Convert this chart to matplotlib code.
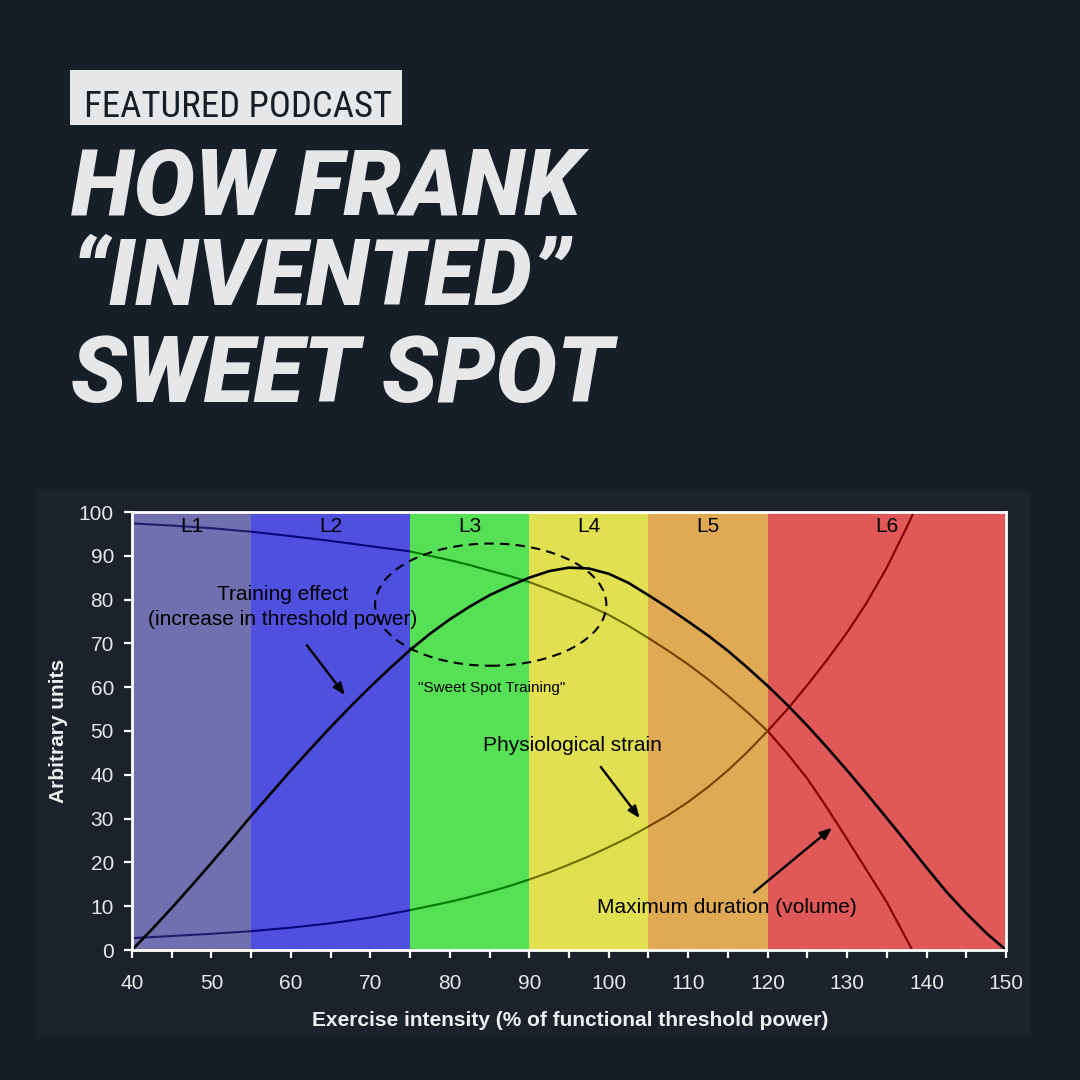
import matplotlib
matplotlib.use("Agg")
import matplotlib.pyplot as plt
from matplotlib.patches import Ellipse, Rectangle

# ---------------- data ----------------
zone_edges = [40, 55, 75, 90, 105, 120, 150]
zone_labels = ["L1", "L2", "L3", "L4", "L5", "L6"]
zone_colors = ["#7070b0", "#5050e0", "#55e055", "#e0e050", "#e0aa55", "#e05858"]
zone_line_colors = ["#1c1c6a", "#06067e", "#007a00", "#6e6e00", "#784000", "#7e0000"]

x_train = [40, 42.5, 45, 47.5, 50, 52.5, 55, 57.5, 60, 62.5, 65, 67.5, 70, 72.5, 75,
           77.5, 80, 82.5, 85, 87.5, 90, 92.5, 95, 97.5, 100, 102.5, 105, 107.5, 110,
           112.5, 115, 117.5, 120, 122.5, 125, 127.5, 130, 132.5, 135, 137.5, 140,
           142.5, 145, 147.5, 150]
training_effect = [0, 4.7, 9.6, 14.7, 19.9, 25.2, 30.6, 35.8, 41, 46, 50.9, 55.6, 60.1,
                   64.4, 68.5, 72.2, 75.5, 78.4, 81, 83.1, 85, 86.5, 87.3, 87.1, 85.9,
                   83.8, 81, 78.1, 75, 71.8, 68.3, 64.4, 60.3, 55.9, 51.2, 46.2, 41, 35.6,
                   30.1, 24.5, 18.8, 13.3, 8.4, 3.9, 0]

x_strain = [40, 45, 50, 55, 60, 65, 70, 75, 80, 82.5, 85, 87.5, 90, 92.5, 95, 97.5, 100,
            102.5, 105, 107.5, 110, 112.5, 115, 117.5, 120, 122.5, 125, 127.5, 130,
            132.5, 135, 137.5, 138.4]
strain = [2.7, 3.2, 3.7, 4.3, 5.1, 6.1, 7.4, 9.1, 11, 12.1, 13.3, 14.6, 16.1, 17.7, 19.5,
          21.4, 23.5, 25.7, 28.2, 30.8, 33.8, 37.2, 41, 45.3, 50, 55, 60.5, 66.3, 72.5,
          79.4, 87.3, 96.5, 100]

x_duration = [40, 45, 50, 55, 60, 65, 70, 75, 80, 82.5, 85, 87.5, 90, 92.5, 95, 97.5,
              100, 102.5, 105, 107.5, 110, 112.5, 115, 117.5, 120, 122.5, 125, 127.5,
              130, 132.5, 135, 137.5, 138.2]
duration = [97.4, 96.9, 96.3, 95.5, 94.5, 93.4, 92.2, 91, 89, 87.9, 86.6, 85.4, 84, 82.3,
            80.5, 78.6, 76.5, 74, 71.2, 68.3, 65.2, 61.8, 58.1, 54.2, 50, 44.8, 39.1,
            32.4, 25.3, 18.1, 10.9, 2.4, 0]

x_ticks_major = [40, 50, 60, 70, 80, 90, 100, 110, 120, 130, 140, 150]
x_ticks_minor = [45, 55, 65, 75, 85, 95, 105, 115, 125, 135, 145]
y_ticks = [0, 10, 20, 30, 40, 50, 60, 70, 80, 90, 100]

sweet_spot_center = (85.15, 78.85)
sweet_spot_width = 29.1
sweet_spot_height = 27.9

BG = "#161e28"
PANEL = "#1b222b"
LIGHT = "#e6e7e9"

# ---------------- figure ----------------
fig = plt.figure(figsize=(10.8, 10.8), dpi=100, facecolor=BG)

def px(x, y):
    return x / 1080.0, 1 - y / 1080.0

# header box
fig.patches.append(Rectangle(px(70, 125), 332 / 1080, 55 / 1080, transform=fig.transFigure,
                             facecolor=LIGHT, edgecolor="none", zorder=1))
fig.text(*px(84, 117), "FEATURED PODCAST", color=BG, fontsize=26.5, fontstretch="condensed",
         family=["DejaVu Sans Condensed", "Liberation Sans Narrow", "Roboto Condensed",
                 "DejaVu Sans"], ha="left", va="baseline", zorder=2)

title_font = dict(family=["Roboto", "Lato", "DejaVu Sans"], fontweight="black",
                  fontstyle="italic", color=LIGHT, fontsize=66, ha="left", va="baseline")
fig.text(*px(71, 215), "HOW FRANK", **title_font)
fig.text(*px(71, 305), "\u201cINVENTED\u201d", **title_font)
fig.text(*px(71, 402), "SWEET SPOT", **title_font)

# chart panel
fig.patches.append(Rectangle(px(37, 1037), (1030 - 37) / 1080, (1037 - 490) / 1080,
                             transform=fig.transFigure, facecolor=PANEL, edgecolor="none",
                             zorder=-1))

ax = fig.add_axes([132 / 1080, 1 - 950 / 1080, (1006 - 132) / 1080, (950 - 512) / 1080])
ax.set_zorder(5)
ax.set_xlim(40, 150)
ax.set_ylim(0, 100)

txt = dict(family=["Liberation Sans", "DejaVu Sans"])

spans = []
for i in range(len(zone_labels)):
    sp = ax.axvspan(zone_edges[i], zone_edges[i + 1], color=zone_colors[i], lw=0, zorder=0)
    spans.append(sp)
    ax.text((zone_edges[i] + zone_edges[i + 1]) / 2, 96.6, zone_labels[i], ha="center",
            va="center", fontsize=15, color="black", zorder=5, **txt)

# coloured curves, clipped per zone
for i, sp in enumerate(spans):
    for xs, ys in ((x_strain, strain), (x_duration, duration)):
        ln, = ax.plot(xs, ys, color=zone_line_colors[i], lw=1.5, zorder=3,
                      solid_capstyle="butt", solid_joinstyle="round")
        ln.set_clip_path(sp)

ax.plot(x_train, training_effect, color="black", lw=1.9, zorder=4,
        solid_joinstyle="round")

ax.add_patch(Ellipse(sweet_spot_center, sweet_spot_width, sweet_spot_height, fill=False,
                     edgecolor="black", lw=1.5, linestyle=(0, (4.5, 3)), zorder=4))

# annotations
ax.text(58.9, 78.3, "Training effect\n(increase in threshold power)", ha="center",
        va="center", fontsize=15, linespacing=1.4, zorder=5, **txt)
ax.text(85.3, 59.8, "\"Sweet Spot Training\"", ha="center", va="center", fontsize=11,
        zorder=5, **txt)
ax.text(95.4, 46.8, "Physiological strain", ha="center", va="center", fontsize=15,
        zorder=5, **txt)
ax.text(114.9, 9.6, "Maximum duration (volume)", ha="center", va="center", fontsize=15,
        zorder=5, **txt)

arrow = dict(arrowstyle="-|>,head_length=0.7,head_width=0.28", color="black", lw=1.7,
             shrinkA=0, shrinkB=0)
ax.annotate("", xy=(66.8, 58.2), xytext=(62.0, 69.6), arrowprops=arrow, zorder=5)
ax.annotate("", xy=(103.9, 30.1), xytext=(99.0, 41.8), arrowprops=arrow, zorder=5)
ax.annotate("", xy=(128.1, 27.9), xytext=(118.3, 13.2), arrowprops=arrow, zorder=5)

# axes styling
for s in ax.spines.values():
    s.set_color("white")
    s.set_linewidth(2)
    s.set_zorder(6)
ax.set_xticks(x_ticks_major)
ax.set_xticks(x_ticks_minor, minor=True)
ax.set_yticks(y_ticks)
ax.tick_params(axis="both", which="both", direction="out", color="white", length=6,
               width=1.6, labelcolor="#e8e8e8", labelsize=15)
ax.tick_params(axis="x", which="both", pad=11)
ax.tick_params(axis="y", pad=7)
for lab in ax.get_xticklabels() + ax.get_yticklabels():
    lab.set_family(["Liberation Sans", "DejaVu Sans"])

ax.set_xlabel("Exercise intensity (% of functional threshold power)", color="#eeeeee",
              fontsize=15, fontweight="bold", va="center", **txt)
ax.xaxis.set_label_coords((570 - 132) / 874, -(1021 - 950) / 438)
ax.set_ylabel("Arbitrary units", color="#eeeeee", fontsize=15, fontweight="bold",
              va="center", **txt)
ax.yaxis.set_label_coords((58 - 132) / 874, 0.5)

fig.savefig("out.png", dpi=100, facecolor=BG)
